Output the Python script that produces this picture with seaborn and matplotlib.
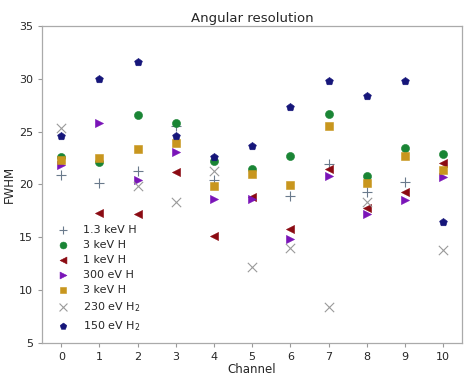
"""Angular resolution per channel."""

import numpy as np
import matplotlib
matplotlib.use('Agg')
import matplotlib.pyplot as plt
import seaborn as sns

nan = np.nan

channels = list(range(11))

labels = ['1.3 keV H', '3 keV H', '1 keV H', '300 eV H',
          '3 keV H', '230 eV H$_2$', '150 eV H$_2$']

fwhm_13kev_h = [20.9, 20.1, 21.3, 25.5, 20.4, nan, 18.9, 21.95, 19.3, 20.2, nan]
fwhm_3kev_h_a = [22.6, 22.1, 26.6, 25.8, 22.2, 21.5, 22.7, 26.7, 20.75, 23.4, 22.85]
fwhm_1kev_h = [nan, 17.3, 17.2, 21.2, 15.1, 18.85, 15.75, 21.45, 17.8, 19.3, 22.0]
fwhm_300ev_h = [21.8, 25.8, 20.4, 23.1, 18.6, 18.6, 14.8, 20.75, 17.2, 18.5, 20.7]
fwhm_3kev_h_b = [22.3, 22.5, 23.3, 23.9, 19.8, 21.0, 19.9, 25.5, 20.1, 22.7, 21.4]
fwhm_230ev_h2 = [25.35, nan, 19.8, 18.3, 21.3, 12.2, 14.0, 8.4, 18.3, nan, 13.8]
fwhm_150ev_h2 = [24.6, 30.0, 31.6, 24.6, 22.6, 23.6, 27.3, 29.8, 28.4, 29.8, 16.45]

series = [fwhm_13kev_h, fwhm_3kev_h_a, fwhm_1kev_h, fwhm_300ev_h,
          fwhm_3kev_h_b, fwhm_230ev_h2, fwhm_150ev_h2]
markers = ['+', 'o', '<', '>', 's', 'x', 'p']
colors = ['#6a7a8c', '#1a8535', '#8b0a12', '#7a14b8', '#c8961e', '#9a9a9a', '#16167a']

sns.set_style('ticks')
plt.rcParams['font.family'] = ['DejaVu Sans']

fig = plt.figure(figsize=(4.74, 3.79), dpi=100)
ax = fig.add_axes([0.089, 0.095, 0.886, 0.837])

for vals, lab, m, c in zip(series, labels, markers, colors):
    unfilled = m in ('+', 'x')
    sns.scatterplot(
        x=channels, y=vals, ax=ax, marker=m, label=lab,
        color=c, s=34 if not unfilled else 45,
        edgecolor=None if unfilled else c,
        linewidth=0.8 if unfilled else 0.4,
    )

ax.set_xlim(-0.5, 10.5)
ax.set_ylim(5, 35)
ax.set_xticks(channels)
ax.set_yticks([5, 10, 15, 20, 25, 30, 35])
ax.tick_params(labelsize=8, length=3, color='#999999', width=0.8)
for sp in ax.spines.values():
    sp.set_color('#aaaaaa')
    sp.set_linewidth(0.9)

ax.set_title('Angular resolution', fontsize=9.5, pad=3)
ax.set_xlabel('Channel', fontsize=8.5, labelpad=1)
ax.set_ylabel('FWHM', fontsize=8.5, labelpad=2)

ax.legend(loc='lower left', frameon=False, fontsize=8, labelspacing=0.45,
          scatterpoints=1, handletextpad=0.8, markerscale=0.85)

plt.savefig('out.png', dpi=100)
plt.close()
